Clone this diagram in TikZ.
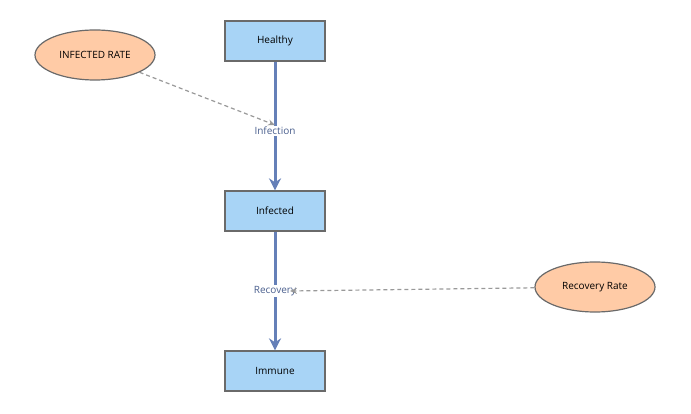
\documentclass[tikz,border=0pt]{standalone}
\usepackage{fontspec}
\setmainfont{Open Sans}
\usetikzlibrary{arrows.meta}
\definecolor{boxfill}{HTML}{A8D4F6}
\definecolor{elfill}{HTML}{FFCBA6}
\definecolor{edge}{HTML}{6A6A6A}
\definecolor{flow}{HTML}{6580B8}
\definecolor{lab}{HTML}{4A5F8E}
\tikzset{
 stock/.style={draw=edge,line width=1.2pt,fill=boxfill,minimum width=100pt,minimum height=40pt,inner sep=0,font=\fontsize{10}{12}\selectfont},
 aux/.style={draw=edge,line width=1.2pt,fill=elfill,ellipse,minimum width=120pt,minimum height=50pt,inner sep=0,font=\fontsize{10}{12}\selectfont},
 flowlab/.style={fill=white,text=lab,inner sep=1pt,font=\fontsize{10}{12}\selectfont},
 flowline/.style={draw=flow,line width=3pt,-{Stealth[length=12pt,width=12pt]}},
 info/.style={draw=gray!80,line width=1.2pt,dash pattern=on 4pt off 3pt,-{Stealth[length=7pt,width=6pt]}}
}
\usetikzlibrary{shapes.geometric}
\begin{document}
\begin{tikzpicture}[x=1pt,y=-1pt]
\useasboundingbox (0,0) rectangle (691,414);
\node[stock] (h) at (275,41) {Healthy};
\node[stock] (i) at (275,211) {Infected};
\node[stock] (m) at (275,371) {Immune};
\node[aux] (ir) at (95,55) {INFECTED RATE};
\node[aux] (rr) at (595,287) {Recovery Rate};
\coordinate (fi) at (275,125);
\coordinate (fr) at (290,291);
\draw[flowline] (h) -- (i);
\draw[flowline] (i) -- (m);
\node[flowlab] (li) at (275,131) {Infection};
\node[flowlab] (lr) at (275,291) {Recovery};
\draw[info] (ir) -- (fi);
\draw[info] (rr) -- (fr);
\end{tikzpicture}
\end{document}
